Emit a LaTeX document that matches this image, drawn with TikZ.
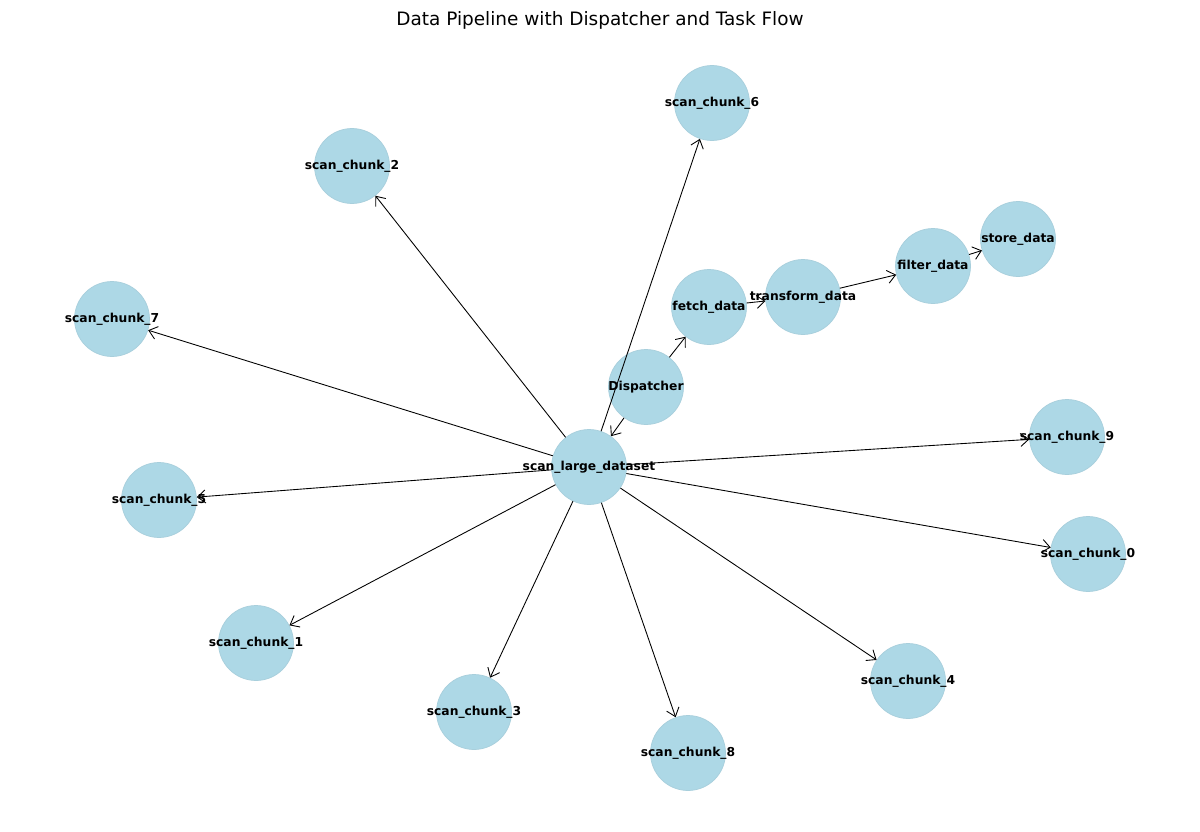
\documentclass[tikz,border=0pt]{standalone}
\usepackage{fontspec}
\setmainfont{DejaVu Sans}
\usetikzlibrary{arrows.meta}
\definecolor{nodeblue}{RGB}{173,216,230}
\tikzset{
  task/.style={circle, fill=nodeblue, draw=nodeblue!90!gray, minimum size=1.5cm, inner sep=0pt},
  tasklabel/.style={font=\fontsize{7}{8}\selectfont\bfseries, inner sep=0pt},
  flow/.style={-{Straight Barb[length=1.6mm,width=2.6mm]}, line width=0.5pt}
}
\begin{document}
\begin{tikzpicture}[x=0.2mm,y=-0.2mm]
\useasboundingbox[fill=white] (0,0) rectangle (1200,831);
\node[font=\fontsize{10.5}{12}\selectfont] (title) at (600,20) {Data Pipeline with Dispatcher and Task Flow};

% task circles
\foreach \name/\x/\y in {disp/646/387, large/589/467, fetch/709/307, transform/803/297,
    filter/933/266, store/1018/239, c6/712/103, c2/352/166, c7/112/319, c5/159/500,
    c1/256/643, c3/474/712, c8/688/753, c4/908/681, c0/1088/554, c9/1067/437}
  \node[task] (\name) at (\x,\y) {};

% pipeline edges
\draw[flow] (disp) -- (large);
\draw[flow] (disp) -- (fetch);
\draw[flow] (fetch) -- (transform);
\draw[flow] (transform) -- (filter);
\draw[flow] (filter) -- (store);
\foreach \c in {c0,c1,c2,c3,c4,c5,c6,c7,c8,c9}
  \draw[flow] (large) -- (\c);

% labels
\foreach \name/\txt in {disp/Dispatcher, large/scan\_large\_dataset, fetch/fetch\_data,
    transform/transform\_data, filter/filter\_data, store/store\_data,
    c0/scan\_chunk\_0, c1/scan\_chunk\_1, c2/scan\_chunk\_2, c3/scan\_chunk\_3,
    c4/scan\_chunk\_4, c5/scan\_chunk\_5, c6/scan\_chunk\_6, c7/scan\_chunk\_7,
    c8/scan\_chunk\_8, c9/scan\_chunk\_9}
  \node[tasklabel] (\name-text) at (\name) {\txt};
\end{tikzpicture}
\end{document}
